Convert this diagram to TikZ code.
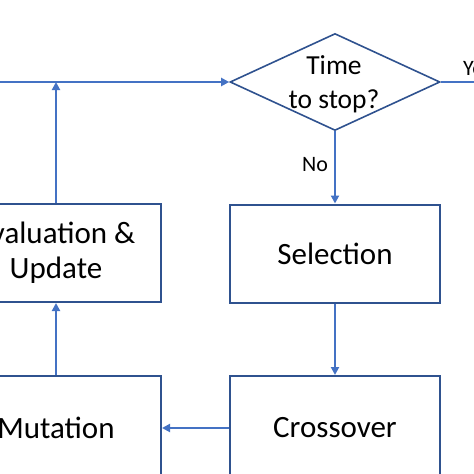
\documentclass[tikz,border=0pt]{standalone}
\usepackage{fontspec}
\setmainfont{Carlito}
\usetikzlibrary{shapes.geometric,arrows.meta}
\definecolor{boxblue}{RGB}{47,82,143}
\definecolor{lineblue}{RGB}{68,114,196}
\tikzset{
  stepbox/.style={draw=boxblue, line width=2pt, fill=white, minimum width=210pt, minimum height=98pt, inner sep=0pt, align=center, font=\fontsize{31}{35}\selectfont},
  decision/.style={draw=boxblue, line width=1.6pt, diamond, minimum width=210pt, minimum height=97pt, inner sep=0pt},
  dectext/.style={align=center, inner sep=0pt, font=\fontsize{27.5}{34}\selectfont},
  flow/.style={draw=lineblue, line width=2pt, -{Triangle[width=8pt,length=8pt]}},
  plainline/.style={draw=lineblue, line width=2pt},
  lbl/.style={inner sep=0pt, font=\fontsize{22}{26}\selectfont}
}
\begin{document}
\begin{tikzpicture}[x=1pt,y=-1pt]
\useasboundingbox (0,0) rectangle (474,474);
\clip (0,0) rectangle (474,474);
\node[stepbox] (eval) at (56,253) {Evaluation \&\\Update};
\node[stepbox] (sel) at (335,253.5) {Selection};
\node[stepbox, minimum height=104pt] (cross) at (335,428) {Crossover};
\node[stepbox, minimum height=104pt] (mut) at (56,428) {Mutation};
\node[decision] (stop) at (335,82) {};
\node[dectext] (stoptext) at (334,84) {Time\\to stop?};
\coordinate (leftin) at (-20,82);
\coordinate (join) at (56,82);
\coordinate (yesend) at (500,82);
\draw[flow] (leftin) -- (stop.west);
\draw[flow] (eval.north) -- (join);
\draw[plainline] (stop.east) -- (yesend);
\node[lbl, anchor=west] (yes) at (463,69) {Yes};
\draw[flow] (stop.south) -- (sel.north);
\node[lbl] (no) at (315,165) {No};
\draw[flow] (sel.south) -- (cross.north);
\draw[flow] (cross.west) -- (mut.east);
\draw[flow] (mut.north) -- (eval.south);
\end{tikzpicture}
\end{document}
